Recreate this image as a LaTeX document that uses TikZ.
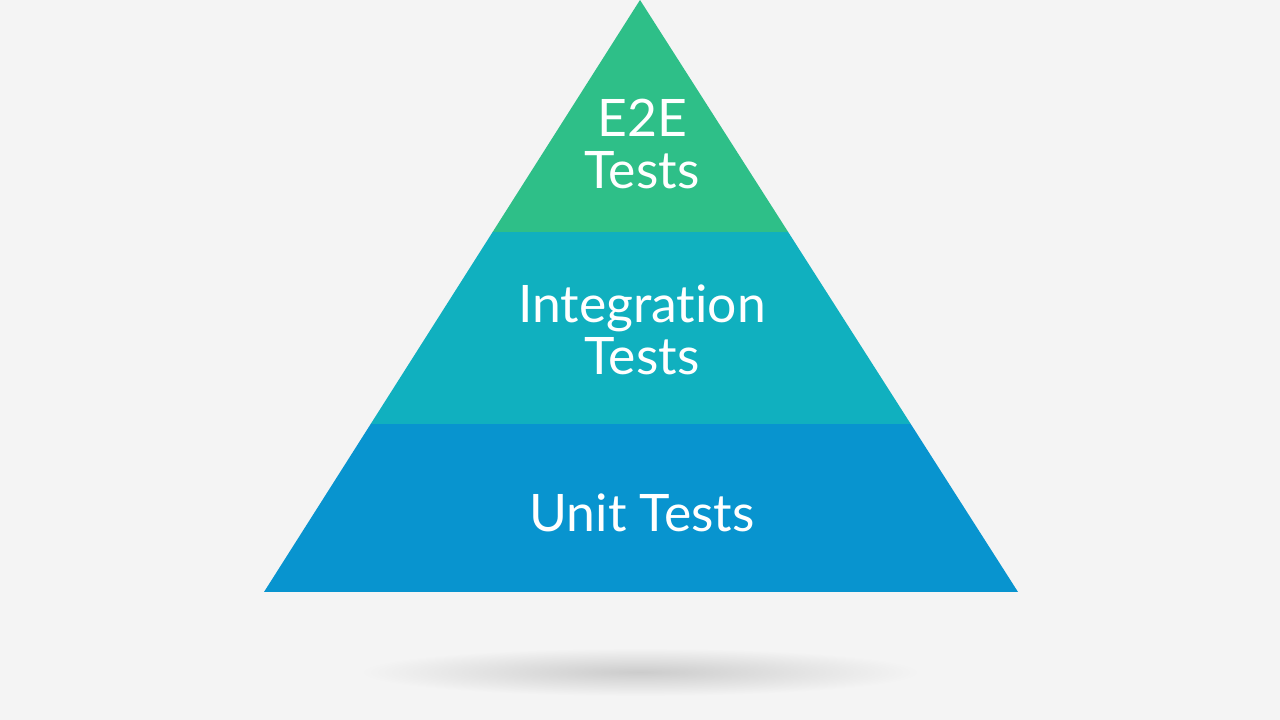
\documentclass[tikz,border=0pt]{standalone}
\usepackage{fontspec}
\setmainfont[Ligatures=NoCommon]{Lato}
\usepackage{tikz}
\usetikzlibrary{calc}
\definecolor{bgcol}{HTML}{F4F4F4}
\definecolor{e2ecol}{HTML}{2EBF88}
\definecolor{integcol}{HTML}{10B0BF}
\definecolor{unitcol}{HTML}{0894CF}

\begin{document}
\begin{tikzpicture}[lbl/.style={text=white,align=center,font=\fontsize{14.7}{15}\selectfont,inner sep=0pt}]
\fill[bgcol] (0,0) rectangle (12.8,7.2);
\useasboundingbox (0,0) rectangle (12.8,7.2);
% shadow under the pyramid
\shade[inner color=black!20,outer color=bgcol] (6.40,0.48) ellipse (2.8 and 0.24);
% layers
\coordinate (apex) at (6.40,7.20);
\coordinate (bl) at (2.64,1.28);
\coordinate (br) at (10.18,1.28);
\fill[unitcol] (bl) -- (br) -- ($(apex)!0.7162!(br)$) -- ($(apex)!0.7162!(bl)$) -- cycle;
\fill[integcol] ($(apex)!0.7162!(bl)$) -- ($(apex)!0.7162!(br)$) -- ($(apex)!0.3919!(br)$) -- ($(apex)!0.3919!(bl)$) -- cycle;
\fill[e2ecol] ($(apex)!0.3919!(bl)$) -- ($(apex)!0.3919!(br)$) -- (apex) -- cycle;
% labels
\node[lbl] (e2e) at (6.42,5.76) {E2E\\Tests};
\node[lbl] (integ) at (6.42,3.90) {Integration\\Tests};
\node[lbl] (unit) at (6.42,2.07) {Unit Tests};
\end{tikzpicture}
\end{document}
